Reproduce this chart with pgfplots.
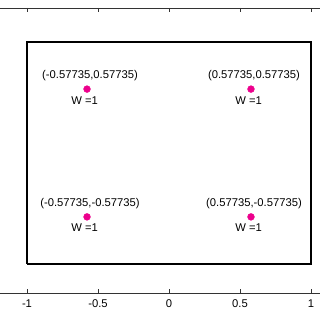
\documentclass[border=0pt]{standalone}
\usepackage{pgfplots}
\pgfplotsset{compat=1.18}
\usepackage{fontspec}
\setmainfont{Liberation Sans}
\begin{document}
\begin{tikzpicture}
\useasboundingbox (0,0) rectangle (8cm,8cm);
\begin{axis}[
  at={(-0.39cm,0.675cm)}, anchor=south west,
  scale only axis, width=9.23cm, height=7.125cm,
  xmin=-1.3, xmax=1.3, ymin=-1.265, ymax=1.31,
  xtick={-1,-0.5,0,0.5,1},
  xticklabels={-1,-0.5,0,0.5,1},
  ytick=\empty,
  tick align=inside, major tick length=0.1cm,
  axis line style={black!80, line width=0.6pt},
  tick style={black!80, line width=0.6pt},
  xticklabel style={font=\fontsize{8}{9}\selectfont, yshift=-0.05cm},
  clip=false,
]
\addplot[black, line width=1.3pt] coordinates {(-1,-1) (1,-1) (1,1) (-1,1) (-1,-1)};
\addplot[only marks, mark=*, mark size=2.4pt, color=magenta, mark options={fill=magenta, draw=magenta}]
  coordinates {(-0.57735,0.57735) (0.57735,0.57735) (-0.57735,-0.57735) (0.57735,-0.57735)};
\begin{scope}[every node/.style={font=\fontsize{8}{9}\selectfont, inner sep=0pt}]
\node at (axis cs:-0.57735,0.57735) [xshift=0.075cm, yshift=0.325cm] {(-0.57735,0.57735)};
\node at (axis cs:0.57735,0.57735) [xshift=0.075cm, yshift=0.325cm] {(0.57735,0.57735)};
\node at (axis cs:-0.57735,-0.57735) [xshift=0.075cm, yshift=0.325cm] {(-0.57735,-0.57735)};
\node at (axis cs:0.57735,-0.57735) [xshift=0.075cm, yshift=0.325cm] {(0.57735,-0.57735)};
\node at (axis cs:-0.57735,0.57735) [xshift=-0.06cm, yshift=-0.28cm] {W =1};
\node at (axis cs:0.57735,0.57735) [xshift=-0.06cm, yshift=-0.28cm] {W =1};
\node at (axis cs:-0.57735,-0.57735) [xshift=-0.06cm, yshift=-0.28cm] {W =1};
\node at (axis cs:0.57735,-0.57735) [xshift=-0.06cm, yshift=-0.28cm] {W =1};
\end{scope}
\end{axis}
\end{tikzpicture}
\end{document}
